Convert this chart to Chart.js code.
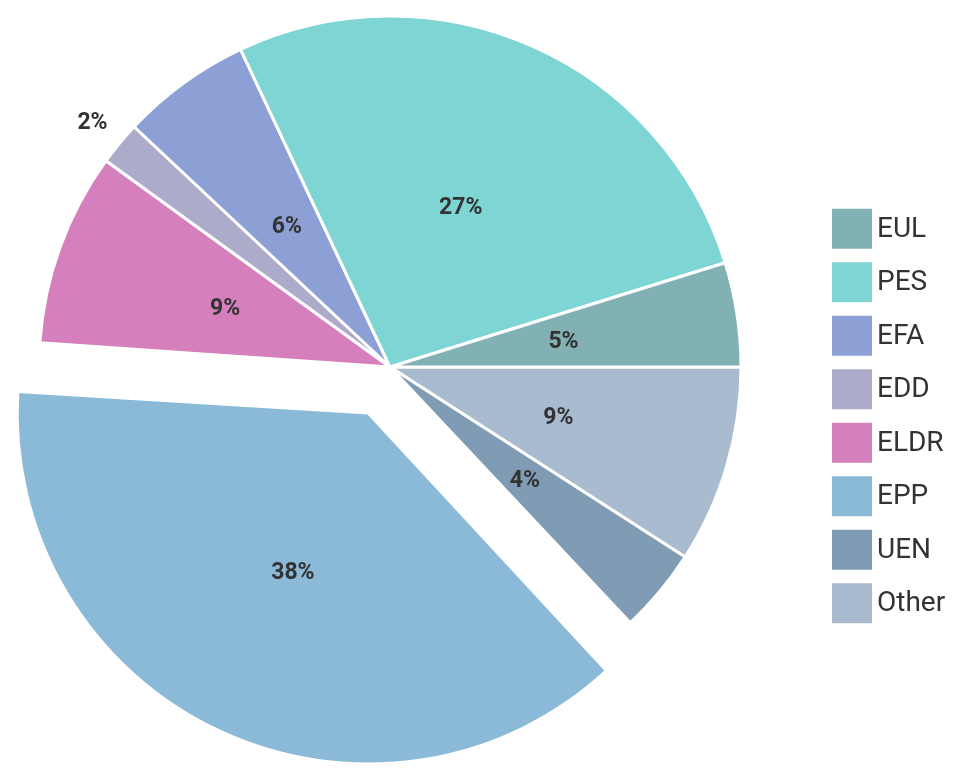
<!DOCTYPE html>
<html>
<head>
<meta charset="utf-8">
<title>Party share</title>
<script src="https://cdn.jsdelivr.net/npm/chart.js@4.4.1/dist/chart.umd.min.js"></script>
<style>
  html, body { margin: 0; padding: 0; background: #fff; }
  #wrap { position: relative; width: 969px; height: 784px; }
</style>
</head>
<body>
<div id="wrap"><canvas id="partyChart"></canvas></div>
<script>
const parties = ['EUL', 'PES', 'EFA', 'EDD', 'ELDR', 'EPP', 'UEN', 'Other'];
const shares = [4.8, 27.2, 6.0, 2.0, 8.9, 38.1, 3.9, 9.1];
const explodedParty = 'EPP';
const explodePx = 51;

const partyColorMap = {
  'EUL': '#82b1b4',
  'PES': '#7fd4d4',
  'EFA': '#8ca0d5',
  'EDD': '#adabca',
  'ELDR': '#d580bd',
  'EPP': '#8abad8',
  'UEN': '#809cb5',
  'Other': '#a8bbcf'
};

// chart.js grows an offset slice's radius a bit, pull it back so the rim stays equal
const explodeFix = {
  id: 'explodeFix',
  afterUpdate(chart) {
    chart.getDatasetMeta(0).data.forEach((arc) => {
      const shift = (arc.options.offset || 0) / 4;
      if (!shift) return;
      const circ = arc.endAngle - arc.startAngle;
      arc.outerRadius -= shift * (1 - Math.sin(Math.min(Math.PI, circ)));
    });
  }
};

// percent text on each slice, tiny slices get it outside the rim
const percentLabels = {
  id: 'percentLabels',
  afterDatasetsDraw(chart) {
    const ctx = chart.ctx;
    const meta = chart.getDatasetMeta(0);
    const radius = meta.controller.outerRadius;
    const values = chart.data.datasets[0].data;
    const total = values.reduce((a, b) => a + b, 0);
    ctx.save();
    ctx.font = 'bold 23px Roboto';
    ctx.fillStyle = '#333333';
    ctx.textAlign = 'center';
    ctx.textBaseline = 'middle';
    meta.data.forEach((arc, i) => {
      const p = arc.getProps(['x', 'y', 'startAngle', 'endAngle'], true);
      const pct = values[i] / total * 100;
      const mid = (p.startAngle + p.endAngle) / 2;
      // arc draws its offset at a quarter of the option value
      const shift = (arc.options.offset || 0) / 4;
      const dist = pct < 3 ? radius * 1.1 : radius / 2 + shift;
      ctx.fillText(Math.round(pct) + '%', p.x + Math.cos(mid) * dist, p.y + Math.sin(mid) * dist + 2);
    });
    ctx.restore();
  }
};

// legend column on the right, in the original party order
const sideLegend = {
  id: 'sideLegend',
  afterDraw(chart) {
    const ctx = chart.ctx;
    const area = chart.chartArea;
    const labels = chart.data.labels.slice().reverse();
    const colors = chart.data.datasets[0].backgroundColor.slice().reverse();
    const box = 40;
    const rowH = 53.5;
    const left = area.right + 52;
    let top = (area.top + area.bottom) / 2 + 49 - (labels.length * rowH - (rowH - box)) / 2;
    ctx.save();
    ctx.font = '28px Roboto';
    ctx.textBaseline = 'middle';
    ctx.textAlign = 'left';
    labels.forEach((label, i) => {
      ctx.fillStyle = colors[i];
      ctx.fillRect(left, top, box, box);
      ctx.fillStyle = '#333333';
      ctx.fillText(label, left + box + 5, top + box / 2 + 1);
      top += rowH;
    });
    ctx.restore();
  }
};

document.addEventListener('DOMContentLoaded', function() {
  renderPartyChart();
});

function renderPartyChart() {
  const ctx = document.getElementById('partyChart');
  if (!ctx) return;

  // chart.js goes clockwise, the picture runs counter-clockwise from 3 o'clock
  const labels = parties.slice().reverse();
  const data = shares.slice().reverse();
  const colors = labels.map((label) => partyColorMap[label] || '#64748b');

  new Chart(ctx, {
    type: 'pie',
    data: {
      labels: labels,
      datasets: [{
        data: data,
        backgroundColor: colors,
        borderColor: '#ffffff',
        borderWidth: 3,
        offset: labels.map((label) => label === explodedParty ? explodePx * 4 : 0)
      }]
    },
    options: {
      responsive: true,
      maintainAspectRatio: false,
      animation: false,
      rotation: 90,
      radius: 351,
      clip: false,
      layout: {
        padding: { left: 0, right: 189, top: 0, bottom: 50 }
      },
      plugins: {
        legend: { display: false },
        tooltip: { enabled: false }
      }
    },
    plugins: [explodeFix, percentLabels, sideLegend]
  });
}
</script>
</body>
</html>
